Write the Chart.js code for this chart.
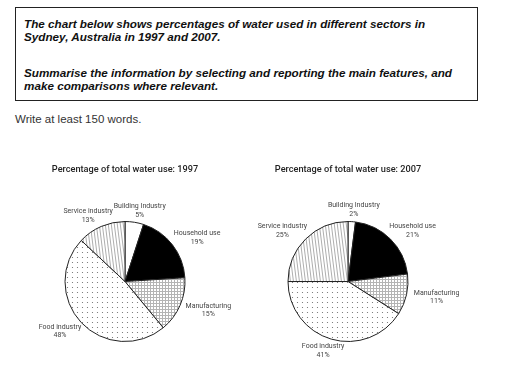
<!DOCTYPE html>
<html>
<head>
<meta charset="utf-8">
<script src="https://cdn.jsdelivr.net/npm/chart.js@4.4.1/dist/chart.umd.min.js"></script>
<style>
  body { margin: 0; width: 512px; height: 367px; background: #fff; position: relative; overflow: hidden; font-family: "Liberation Sans", Arial, sans-serif; }
  .task { position: absolute; left: 15px; top: 7px; width: 463px; height: 94px; box-sizing: border-box; border: 1.5px solid #222; padding: 9px 0 0 8px; }
  .task p { margin: 0; font-weight: bold; font-style: italic; font-size: 11.7px; line-height: 13px; color: #111; white-space: nowrap; }
  .task p + p { margin-top: 23px; }
  .words { position: absolute; left: 15px; top: 113px; font-size: 11.5px; color: #333; }
  canvas { position: absolute; }
  #pie1 { left: 0; top: 150px; }
  #pie2 { left: 220px; top: 150px; }
</style>
</head>
<body>
<div class="task">
  <p>The chart below shows percentages of water used in different sectors in<br>Sydney, Australia in 1997 and 2007.</p>
  <p>Summarise the information by selecting and reporting the main features, and<br>make comparisons where relevant.</p>
</div>
<div class="words">Write at least 150 words.</div>
<canvas id="pie1" width="250" height="217"></canvas>
<canvas id="pie2" width="256" height="217"></canvas>
<script>
// --- DATA ---
const sectors = ['Building Industry', 'Household use', 'Manufacturing', 'Food industry', 'Service industry'];
const share1997 = [5, 19, 15, 48, 13];
const share2007 = [2, 21, 11, 41, 25];
const chartTitles = ['Percentage of total water use: 1997', 'Percentage of total water use: 2007'];

// --- FILL PATTERNS (black & white print look) ---
function makeTile(w, h, draw) {
    const c = document.createElement('canvas');
    c.width = w; c.height = h;
    const g = c.getContext('2d');
    g.fillStyle = '#fff';
    g.fillRect(0, 0, w, h);
    draw(g);
    return document.createElement('canvas').getContext('2d').createPattern(c, 'repeat');
}

const gridFill = makeTile(3, 3, g => {
    g.fillStyle = '#b4b4b4';
    g.fillRect(0, 0, 3, 1);
    g.fillRect(0, 0, 1, 3);
});
const dotFill = makeTile(5, 5, g => {
    g.fillStyle = '#6a6a6a';
    g.beginPath(); g.arc(2.5, 2.5, 0.6, 0, Math.PI * 2); g.fill();
});
const stripeFill = makeTile(3, 24, g => {
    g.strokeStyle = '#777';
    g.lineWidth = 0.6;
    [-3, 0, 3].forEach(dx => { g.beginPath(); g.moveTo(dx, 0); g.lineTo(dx + 3, 24); g.stroke(); });
});
const sectorFills = ['#ffffff', '#000000', gridFill, dotFill, stripeFill];

// outside labels, placed along each slice's middle angle
const sliceLabels = {
    id: 'sliceLabels',
    afterDatasetsDraw(chart) {
        const ctx = chart.ctx;
        const values = chart.data.datasets[0].data;
        ctx.save();
        ctx.font = '7px Roboto';
        ctx.fillStyle = '#444';
        ctx.textAlign = 'center';
        ctx.textBaseline = 'middle';
        chart.getDatasetMeta(0).data.forEach((arc, i) => {
            const { x, y, startAngle, endAngle, outerRadius } = arc.getProps(['x', 'y', 'startAngle', 'endAngle', 'outerRadius'], true);
            const mid = (startAngle + endAngle) / 2;
            const dx = Math.cos(mid), dy = Math.sin(mid);
            const name = chart.data.labels[i];
            const halfW = ctx.measureText(name).width / 2;
            const cx = x + dx * (outerRadius + 8) + dx * halfW;
            const cy = y + dy * (outerRadius + 8) + dy * 4;
            ctx.fillText(name, cx, cy - 4);
            ctx.fillText(values[i] + '%', cx, cy + 4.5);
        });
        ctx.restore();
    }
};

function drawPie(id, values, title) {
    return new Chart(document.getElementById(id), {
        type: 'pie',
        data: {
            labels: sectors,
            datasets: [{ data: values, backgroundColor: sectorFills, borderColor: '#222', borderWidth: 1, radius: 60 }]
        },
        options: {
            responsive: false, animation: false,
            layout: { padding: { top: 14 } },
            plugins: {
                legend: { display: false },
                tooltip: { enabled: false },
                title: { display: true, text: title, color: '#222', font: { family: 'Roboto', size: 9.2, weight: '500' }, padding: { top: 0, bottom: 21 } }
            }
        },
        plugins: [sliceLabels]
    });
}

drawPie('pie1', share1997, chartTitles[0]);
drawPie('pie2', share2007, chartTitles[1]);
</script>
</body>
</html>
